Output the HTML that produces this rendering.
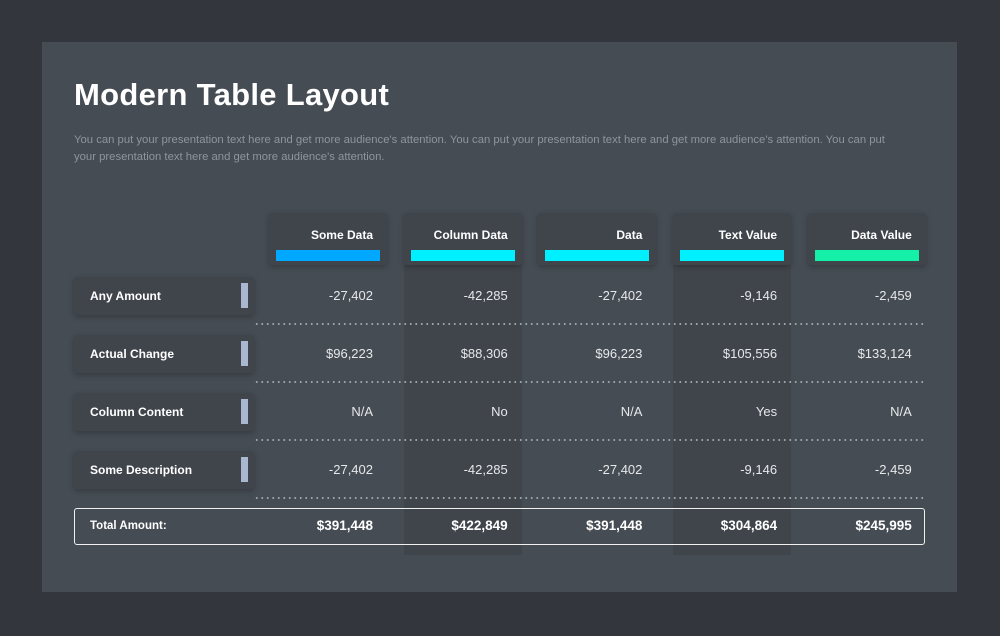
<!DOCTYPE html>
<html><head><meta charset="utf-8">
<style>
body{margin:0;width:1000px;height:636px;background:#33373d;font-family:"Liberation Sans",sans-serif;overflow:hidden;position:relative}
#panel{position:absolute;left:42px;top:42px;width:915px;height:550px;background:#464c54}
.abs{position:absolute}
#title{left:74px;top:77px;font-size:31px;font-weight:bold;color:#fff;letter-spacing:0.3px}
#sub{left:74px;top:132px;font-size:11.3px;line-height:17px;color:#8e959d;white-space:nowrap}
.hdr{background:#40454c;border-radius:3px;box-shadow:0 2px 6px rgba(0,0,0,.25)}
.hdr span{position:absolute;right:14px;top:15px;font-size:12px;font-weight:bold;color:#fff}
.hdr i{position:absolute;left:7px;right:7px;top:37px;height:11px}
.lbl{background:#40454c;border-radius:3px;box-shadow:0 2px 6px rgba(0,0,0,.25)}
.lbl span{position:absolute;left:16px;top:12px;font-size:12px;font-weight:bold;color:#fff}
.lbl i{position:absolute;left:167px;top:6px;width:7px;height:25px;background:#a9b8d0}
.val{font-size:13px;color:#e6e8ea;text-align:right;width:110px}
.tot{font-size:13.5px;font-weight:bold;color:#fff;text-align:right;width:120px}
.dots{height:2px;background:radial-gradient(circle,#9aa1a8 0.9px,transparent 1.1px) 0 0/5.5px 2px repeat-x}
</style></head><body>
<div id="panel"></div>
<div id="title" class="abs">Modern Table Layout</div>
<div id="sub" class="abs">You can put your presentation text here and get more audience's attention. You can put your presentation text here and get more audience's attention. You can put<br>your presentation text here and get more audience's attention.</div>
<div id="tbl"></div>
<script>
const columns=["Some Data","Column Data","Data","Text Value","Data Value"];
const columnColors=["#00a8ff","#00f0ff","#00f0ff","#00f0ff","#14f0a8"];
const rowLabels=["Any Amount","Actual Change","Column Content","Some Description"];
const row1=["-27,402","-42,285","-27,402","-9,146","-2,459"];
const row2=["$96,223","$88,306","$96,223","$105,556","$133,124"];
const row3=["N/A","No","N/A","Yes","N/A"];
const row4=["-27,402","-42,285","-27,402","-9,146","-2,459"];
const totals=["$391,448","$422,849","$391,448","$304,864","$245,995"];
const rows=[row1,row2,row3,row4];
const T=document.getElementById('tbl');
function mk(cls,x,y,w,h,html){const d=document.createElement('div');d.className='abs '+cls;d.style.left=x+'px';d.style.top=y+'px';if(w)d.style.width=w+'px';if(h)d.style.height=h+'px';if(html!==undefined)d.innerHTML=html;T.appendChild(d);return d;}
const colX=i=>269+i*134.7, colW=118, rowY=i=>277+i*58;
[1,3].forEach(i=>{const d=mk('',colX(i),265,colW,290);d.style.background='#40454c';

});
columns.forEach((c,i)=>{const d=mk('hdr',colX(i),213,colW,52,'<span>'+c+'</span><i style="background:'+columnColors[i]+'"></i>');

});
rowLabels.forEach((r,j)=>{const d=mk('lbl',74,rowY(j),180,38,'<span>'+r+'</span><i></i>');


const l=mk('dots',254,rowY(j)+46,672,2);


rows[j].forEach((v,i)=>{const c=mk('val',colX(i)+colW-14-110,rowY(j)+11,110,null,v);

});});
const tb=mk('',74,508,849,35);tb.style.border='1.5px solid #f0f0f0';tb.style.borderRadius='3px';


const tl=mk('',90,520,null,null,'Total Amount:');tl.style.cssText+='font-size:11.5px;font-weight:bold;color:#fff';


totals.forEach((v,i)=>{const c=mk('tot',colX(i)+colW-14-120,518,120,null,v);

});
</script>
</body></html>
